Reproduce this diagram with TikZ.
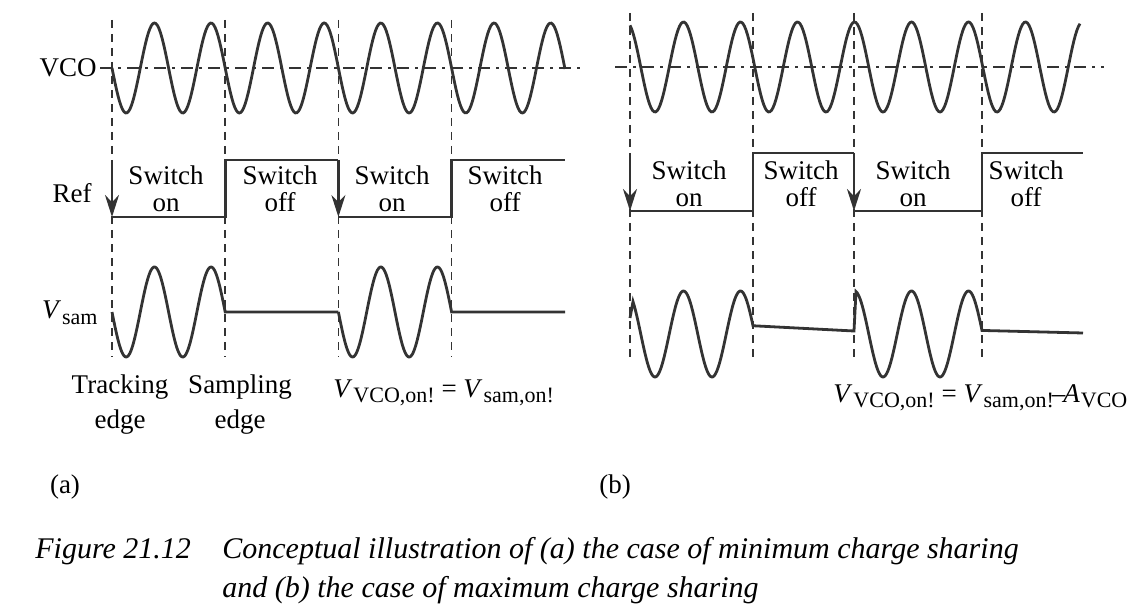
\documentclass[tikz,border=0pt]{standalone}
\usepackage{fontspec}
\setmainfont{Liberation Serif}
\usetikzlibrary{arrows.meta}
\newcommand{\Vsb}[2][V]{\textit{#1}\kern0.5pt\raisebox{-0.45ex}{\fontsize{11}{11}\selectfont #2}}
\begin{document}
\begin{tikzpicture}[x=0.5pt,y=-0.5pt,
  wave/.style={line width=1.4pt,black!80},
  edge/.style={line width=0.8pt,dash pattern=on 4pt off 3pt,black!80},
  mid/.style={line width=0.8pt,dash pattern=on 6pt off 3pt on 1.5pt off 3pt,black!80},
  reff/.style={line width=1.3pt,black!80},
  arr/.style={reff,-{Stealth[length=11pt,width=7pt]}},
  lbl/.style={font=\fontsize{13.5}{13.5}\selectfont,inner sep=0pt},
  sw/.style={lbl,align=center},
  captext/.style={font=\fontsize{15}{15}\selectfont\itshape,inner sep=0pt,anchor=base west}]
\useasboundingbox (0,0) rectangle (1136,615);
% ---------- (a) ----------
\foreach \e in {112,225.2,338.4,451.6} \draw[edge] (\e,20) -- (\e,357);
\draw[mid] (100,68) -- (582,68);
\draw[wave] plot[domain=112:565,samples=300] (\x,{68+45*sin((\x-112)/56.6*360)});
\node[lbl,anchor=east] (vco) at (97,68) {VCO};
\node[lbl] (ref) at (72,193) {Ref};
\node[lbl,anchor=east] (vs) at (98,313) {\Vsb{sam}};
\draw[arr] (112,162) -- (112,217);
\draw[reff] (112,217) -- (225.2,217) -- (225.2,160) -- (338.4,160);
\draw[arr] (338.4,160) -- (338.4,217);
\draw[reff] (338.4,217) -- (451.6,217) -- (451.6,160) -- (565,160);
\node[sw] at (166,189) {Switch\\on};
\node[sw] at (280,189) {Switch\\off};
\node[sw] at (392,189) {Switch\\on};
\node[sw] at (505,189) {Switch\\off};
\draw[wave] plot[domain=112:225.2,samples=120] (\x,{312+45*sin((\x-112)/56.6*360)}) -- (338.4,312);
\draw[wave] plot[domain=338.4:451.6,samples=120] (\x,{312+45*sin((\x-112)/56.6*360)}) -- (565,312);
\node[lbl,align=center,font=\fontsize{13.5}{17.5}\selectfont] at (120,405) {Tracking\\edge};
\node[lbl,align=center,font=\fontsize{13.5}{17.5}\selectfont] at (240,405) {Sampling\\edge};
\node[lbl,anchor=base west] at (333,397) {\Vsb{VCO,on!} = \Vsb{sam,on!}};
\node[lbl] at (65,487) {(a)};
% ---------- (b) ----------
\foreach \e in {630,753,854,982} \draw[edge] (\e,13) -- (\e,357);
\draw[mid] (615,67) -- (1104,67);
\draw[wave] plot[domain=630:1080,samples=300] (\x,{67-45*cos((\x-626.5)/57*360)});
\draw[arr] (630,155) -- (630,211);
\draw[reff] (630,211) -- (753,211) -- (753,153) -- (854,153);
\draw[arr] (854,153) -- (854,211);
\draw[reff] (854,211) -- (982,211) -- (982,153) -- (1083,153);
\node[sw] at (689,184) {Switch\\on};
\node[sw] at (801,184) {Switch\\off};
\node[sw] at (913,184) {Switch\\on};
\node[sw] at (1026,184) {Switch\\off};
\draw[wave] (630,318) -- plot[domain=633:753,samples=120] (\x,{334-43*cos((\x-626.5)/57*360)}) -- (854,331) -- plot[domain=856:982,samples=120] (\x,{334-43*cos((\x-626.5)/57*360)}) -- (1083,333);
\node[lbl,anchor=base west] at (833,402) {\Vsb{VCO,on!} = \Vsb{sam,on!}\kern-1pt--\kern-1pt\Vsb[A]{VCO}};
\node[lbl] at (615,487) {(b)};
% ---------- caption ----------
\node[captext] at (35,558) {Figure 21.12};
\node[captext] at (222,558) {Conceptual illustration of (a) the case of minimum charge sharing};
\node[captext] at (222,597) {and (b) the case of maximum charge sharing};
\end{tikzpicture}
\end{document}
